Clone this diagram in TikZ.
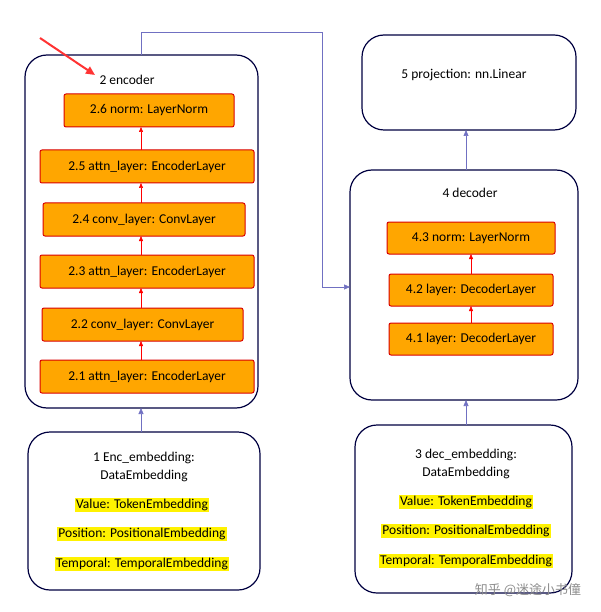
\documentclass[tikz,border=0pt]{standalone}
\usepackage{fontspec}
\setmainfont{Carlito}
\newfontfamily\cjk{Noto Sans CJK SC}
\usetikzlibrary{arrows.meta}
\begin{document}
\begin{tikzpicture}[x=1pt,y=-1pt,
  big/.style={draw=black!75!blue,line width=1.2pt,rounded corners=22pt},
  layer/.style={draw=red!85!black,fill=orange!70!yellow,line width=1pt,rounded corners=2pt},
  lbl/.style={font=\fontsize{13.5}{15}\selectfont,inner sep=0pt},
  hl/.style={font=\fontsize{13.5}{15}\selectfont,fill=yellow,inner sep=1pt},
  red arrow/.style={draw=red,-{Triangle[length=5pt,width=4pt]},line width=0.5pt},
  blue arrow/.style={draw=blue!40!gray!80,-{Triangle[length=6pt,width=5pt]},line width=0.6pt}]
\useasboundingbox (0,0) rectangle (600,612);
% encoder
\draw[big] (25,55) rectangle (258,408);
\coordinate (encT) at (141,55);
\coordinate (encB) at (141,408);
\node[lbl] at (127,80) {2 encoder};
\foreach \n/\a/\b/\t/\bb in {e6/64/234/94/2.6 norm: LayerNorm,
  e5/40/254/150/2.5 attn\_layer: EncoderLayer,
  e4/43/245/203/2.4 conv\_layer: ConvLayer,
  e3/40/254/255/2.3 attn\_layer: EncoderLayer,
  e2/42/243/308/2.2 conv\_layer: ConvLayer,
  e1/40/254/360/2.1 attn\_layer: EncoderLayer}{
  \draw[layer] (\a,\t) rectangle (\b,\t+33);
  \node[lbl] (\n) at ({(\a+\b)/2},\t+16.5) {\bb};
  \coordinate (\n t) at (141,\t);
  \coordinate (\n b) at (141,\t+33);
}
\draw[red arrow] (e1t) -- (e2b);
\draw[red arrow] (e2t) -- (e3b);
\draw[red arrow] (e3t) -- (e4b);
\draw[red arrow] (e4t) -- (e5b);
\draw[red arrow] (e5t) -- (e6b);
% enc embedding
\draw[big] (28,432) rectangle (260,590);
\coordinate (embT) at (141,432);
\node[lbl] at (144,458) {1 Enc\_embedding:};
\node[lbl] at (144,476) {DataEmbedding};
\node[hl] at (142,505) {Value: TokenEmbedding};
\node[hl] at (142,534) {Position: PositionalEmbedding};
\node[hl] at (142,564) {Temporal: TemporalEmbedding};
\draw[blue arrow] (embT) -- (encB);
% projection
\draw[big] (362,35) rectangle (576,130);
\coordinate (projB) at (466,130);
\node[lbl] at (464,75) {5 projection: nn.Linear};
% decoder
\draw[big] (350,170) rectangle (578,400);
\coordinate (decT) at (466,170);
\coordinate (decB) at (466,400);
\coordinate (decL) at (350,287);
\node[lbl] at (470,193) {4 decoder};
\foreach \n/\a/\b/\t/\bb in {d3/387/555/222/4.3 norm: LayerNorm,
  d2/389/553/274/4.2 layer: DecoderLayer,
  d1/389/553/323/4.1 layer: DecoderLayer}{
  \draw[layer] (\a,\t) rectangle (\b,\t+32);
  \node[lbl] (\n) at ({(\a+\b)/2},\t+16) {\bb};
  \coordinate (\n t) at (471,\t);
  \coordinate (\n b) at (471,\t+32);
}
\draw[red arrow] (d1t) -- (d2b);
\draw[red arrow] (d2t) -- (d3b);
\draw[blue arrow] (decT) -- (projB);
% dec embedding
\draw[big] (355,425) rectangle (572,593);
\coordinate (dembT) at (466,425);
\node[lbl] at (466,455) {3 dec\_embedding:};
\node[lbl] at (466,473) {DataEmbedding};
\node[hl] at (466,502) {Value: TokenEmbedding};
\node[hl] at (466,531) {Position: PositionalEmbedding};
\node[hl] at (466,561) {Temporal: TemporalEmbedding};
\draw[blue arrow] (dembT) -- (decB);
% encoder -> decoder
\draw[blue arrow] (encT) -- (141,32) -- (322,32) -- (322,287) -- (decL);
% pointer
\coordinate (p1) at (40,38);
\coordinate (p2) at (95,75);
\draw[draw=red!80,line width=2pt,-{Triangle[length=9pt,width=8pt]}] (p1) -- (p2);
% watermark
\node[font=\cjk\fontsize{13}{15}\selectfont,text=black!45,inner sep=0pt] at (528,590) {知乎 @迷途小书僮};
\end{tikzpicture}
\end{document}
